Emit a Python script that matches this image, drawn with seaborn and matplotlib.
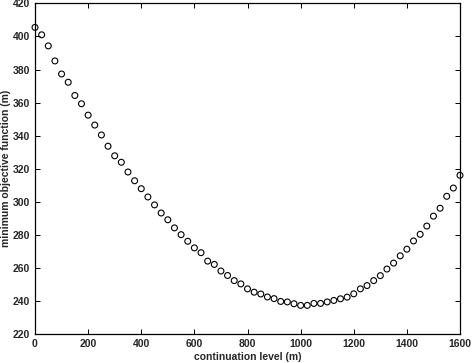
import matplotlib
matplotlib.use("Agg")
import matplotlib.pyplot as plt
import seaborn as sns
import pandas as pd

continuation_level = [0, 25, 50, 75, 100, 125, 150, 175, 200, 225, 250, 275, 300, 325, 350, 375,
                      400, 425, 450, 475, 500, 525, 550, 575, 600, 625, 650, 675, 700, 725, 750, 775,
                      800, 825, 850, 875, 900, 925, 950, 975, 1000, 1025, 1050, 1075, 1100, 1125, 1150, 1175,
                      1200, 1225, 1250, 1275, 1300, 1325, 1350, 1375, 1400, 1425, 1450, 1475, 1500, 1525, 1550, 1575,
                      1600]
min_objective = [405.5, 401.0, 394.3, 385.2, 377.3, 372.3, 364.3, 359.3, 352.4, 346.4, 340.4, 333.6, 327.8, 323.9, 318.0, 312.7,
                 307.9, 302.9, 298.1, 293.2, 289.1, 284.2, 280.1, 276.1, 272.1, 269.2, 264.1, 262.1, 258.1, 255.4, 252.3, 250.3,
                 247.3, 245.3, 244.2, 242.4, 241.4, 239.7, 239.4, 238.3, 237.3, 237.3, 238.5, 238.5, 239.4, 240.3, 241.3, 242.3,
                 244.3, 247.3, 249.3, 252.3, 255.3, 259.3, 262.9, 267.3, 271.3, 276.3, 280.3, 285.3, 291.3, 296.1, 303.3, 308.3,
                 316.0]
x_ticks = [0, 200, 400, 600, 800, 1000, 1200, 1400, 1600]
y_ticks = [220, 240, 260, 280, 300, 320, 340, 360, 380, 400, 420]

sns.set_theme(style="white")
plt.rcParams['font.family'] = ['Liberation Sans', 'DejaVu Sans']

df = pd.DataFrame({"x": continuation_level, "y": min_objective})

fig = plt.figure(figsize=(4.74, 3.63), dpi=100)
ax = fig.add_axes([35/474, 1 - 334/363, 425/474, (334 - 3.4)/363])
sns.scatterplot(data=df, x="x", y="y", ax=ax, marker="o", s=18,
                facecolors="none", edgecolor="black", linewidth=0.8, clip_on=False, zorder=3)

ax.set_xlim(0, 1600)
ax.set_ylim(220, 420)
ax.set_xticks(x_ticks)
ax.set_yticks(y_ticks)
ax.set_xticklabels([str(v) for v in x_ticks], fontsize=7.5, fontweight="bold")
ax.set_yticklabels([str(v) for v in y_ticks], fontsize=7.5, fontweight="bold")
ax.tick_params(axis="both", direction="in", length=3.5, width=0.7, color="black",
               top=True, right=True, bottom=True, left=True, pad=3.5)
for sp in ax.spines.values():
    sp.set_color("black")
    sp.set_linewidth(0.9)
ax.set_xlabel("continuation level (m)", fontsize=7.5, fontweight="bold", labelpad=2)
ax.set_ylabel("minimum objective function (m)", fontsize=7.5, fontweight="bold", labelpad=1)
ax.grid(False)

fig.savefig("out.png", dpi=100)
